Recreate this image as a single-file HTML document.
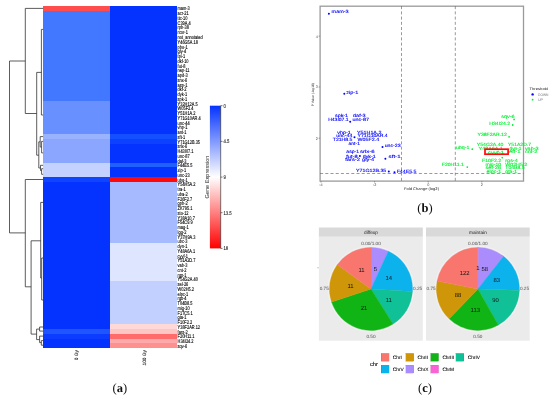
<!DOCTYPE html>
<html><head><meta charset="utf-8"><title>Figure</title>
<style>html,body{margin:0;padding:0;background:#fff}svg{display:block}</style></head>
<body><svg text-rendering="geometricPrecision" width="550" height="398" viewBox="0 0 550 398">
<rect width="550" height="398" fill="#fff"/>
<g shape-rendering="crispEdges">
<rect x="43.10" y="5.80" width="67.10" height="4.75" fill="#FF4D4D"/>
<rect x="43.10" y="10.55" width="67.10" height="90.31" fill="#4277FF"/>
<rect x="43.10" y="100.86" width="67.10" height="33.27" fill="#6890FF"/>
<rect x="43.10" y="134.13" width="67.10" height="4.75" fill="#9AB3FF"/>
<rect x="43.10" y="138.88" width="67.10" height="23.76" fill="#8AA6FF"/>
<rect x="43.10" y="162.65" width="67.10" height="14.26" fill="#C4D2FF"/>
<rect x="43.10" y="176.91" width="67.10" height="4.75" fill="#0F45FF"/>
<rect x="43.10" y="181.66" width="67.10" height="147.34" fill="#0433FF"/>
<rect x="43.10" y="329.00" width="67.10" height="4.75" fill="#1F55FF"/>
<rect x="43.10" y="333.76" width="67.10" height="4.75" fill="#0C3CFF"/>
<rect x="43.10" y="338.51" width="67.10" height="9.51" fill="#0433FF"/>
<rect x="110.20" y="5.80" width="67.10" height="128.33" fill="#0433FF"/>
<rect x="110.20" y="134.13" width="67.10" height="4.75" fill="#1450FF"/>
<rect x="110.20" y="138.88" width="67.10" height="4.75" fill="#0C42FF"/>
<rect x="110.20" y="143.64" width="67.10" height="19.01" fill="#0433FF"/>
<rect x="110.20" y="162.65" width="67.10" height="4.75" fill="#2060FF"/>
<rect x="110.20" y="167.40" width="67.10" height="9.51" fill="#0433FF"/>
<rect x="110.20" y="176.91" width="67.10" height="4.75" fill="#FF0A0A"/>
<rect x="110.20" y="181.66" width="67.10" height="61.79" fill="#A6BBFF"/>
<rect x="110.20" y="243.45" width="67.10" height="38.02" fill="#DEE6FF"/>
<rect x="110.20" y="281.47" width="67.10" height="42.78" fill="#C2D0FF"/>
<rect x="110.20" y="324.25" width="67.10" height="4.75" fill="#FFD8D8"/>
<rect x="110.20" y="329.00" width="67.10" height="4.75" fill="#FFC4C4"/>
<rect x="110.20" y="333.76" width="67.10" height="4.75" fill="#FF6B6B"/>
<rect x="110.20" y="338.51" width="67.10" height="4.75" fill="#FFAAAA"/>
<rect x="110.20" y="343.26" width="67.10" height="4.75" fill="#FF9090"/>
</g>
<g font-family="'Liberation Sans',Arial,sans-serif" font-size="5.3" fill="#000" stroke="#000" stroke-width="0.12">
<text transform="translate(177.60,10.48) scale(0.74,1)">mam-3</text>
<text transform="translate(177.60,15.23) scale(0.74,1)">acr-21</text>
<text transform="translate(177.60,19.98) scale(0.74,1)">ttc-10</text>
<text transform="translate(177.60,24.74) scale(0.74,1)">C39A.4</text>
<text transform="translate(177.60,29.49) scale(0.74,1)">rpb-38</text>
<text transform="translate(177.60,34.24) scale(0.74,1)">rcor-1</text>
<text transform="translate(177.60,38.99) scale(0.74,1)">not_annotated</text>
<text transform="translate(177.60,43.75) scale(0.74,1)">Y46G5A.18</text>
<text transform="translate(177.60,48.50) scale(0.74,1)">pbo-1</text>
<text transform="translate(177.60,53.25) scale(0.74,1)">gly-4</text>
<text transform="translate(177.60,58.01) scale(0.74,1)">tpi-1</text>
<text transform="translate(177.60,62.76) scale(0.74,1)">dkf-10</text>
<text transform="translate(177.60,67.51) scale(0.74,1)">fut-8</text>
<text transform="translate(177.60,72.27) scale(0.74,1)">nep-11</text>
<text transform="translate(177.60,77.02) scale(0.74,1)">apd-3</text>
<text transform="translate(177.60,81.77) scale(0.74,1)">snx-6</text>
<text transform="translate(177.60,86.52) scale(0.74,1)">asp-1</text>
<text transform="translate(177.60,91.28) scale(0.74,1)">dkf-2</text>
<text transform="translate(177.60,96.03) scale(0.74,1)">dyk-1</text>
<text transform="translate(177.60,100.78) scale(0.74,1)">spk-1</text>
<text transform="translate(177.60,105.54) scale(0.74,1)">Y32H12A.5</text>
<text transform="translate(177.60,110.29) scale(0.74,1)">W05F2.4</text>
<text transform="translate(177.60,115.04) scale(0.74,1)">Y51H1A.2</text>
<text transform="translate(177.60,119.80) scale(0.74,1)">Y71G10AR.4</text>
<text transform="translate(177.60,124.55) scale(0.74,1)">unc-44</text>
<text transform="translate(177.60,129.30) scale(0.74,1)">vhp-1</text>
<text transform="translate(177.60,134.05) scale(0.74,1)">ant-1</text>
<text transform="translate(177.60,138.81) scale(0.74,1)">sft-1</text>
<text transform="translate(177.60,143.56) scale(0.74,1)">Y71G12B.35</text>
<text transform="translate(177.60,148.31) scale(0.74,1)">srlx-6</text>
<text transform="translate(177.60,153.07) scale(0.74,1)">H43I07.1</text>
<text transform="translate(177.60,157.82) scale(0.74,1)">unc-87</text>
<text transform="translate(177.60,162.57) scale(0.74,1)">daf-3</text>
<text transform="translate(177.60,167.33) scale(0.74,1)">F44E5.5</text>
<text transform="translate(177.60,172.08) scale(0.74,1)">zip-1</text>
<text transform="translate(177.60,176.83) scale(0.74,1)">unc-23</text>
<text transform="translate(177.60,181.58) scale(0.74,1)">ubq-1</text>
<text transform="translate(177.60,186.34) scale(0.74,1)">Y54H5A.2</text>
<text transform="translate(177.60,191.09) scale(0.74,1)">tra-1</text>
<text transform="translate(177.60,195.84) scale(0.74,1)">uba-2</text>
<text transform="translate(177.60,200.60) scale(0.74,1)">F26F2.7</text>
<text transform="translate(177.60,205.35) scale(0.74,1)">gpb-2</text>
<text transform="translate(177.60,210.10) scale(0.74,1)">ZK795.1</text>
<text transform="translate(177.60,214.86) scale(0.74,1)">sto-12</text>
<text transform="translate(177.60,219.61) scale(0.74,1)">Y38A10.7</text>
<text transform="translate(177.60,224.36) scale(0.74,1)">F54C9.9</text>
<text transform="translate(177.60,229.11) scale(0.74,1)">mag-1</text>
<text transform="translate(177.60,233.87) scale(0.74,1)">lgg-2</text>
<text transform="translate(177.60,238.62) scale(0.74,1)">Y37H9A.3</text>
<text transform="translate(177.60,243.37) scale(0.74,1)">ubc-3</text>
<text transform="translate(177.60,248.13) scale(0.74,1)">dyn-1</text>
<text transform="translate(177.60,252.88) scale(0.74,1)">Y48A6A.1</text>
<text transform="translate(177.60,257.63) scale(0.74,1)">cyyf-1</text>
<text transform="translate(177.60,262.39) scale(0.74,1)">Y51A2D.7</text>
<text transform="translate(177.60,267.14) scale(0.74,1)">vab-3</text>
<text transform="translate(177.60,271.89) scale(0.74,1)">cnt-2</text>
<text transform="translate(177.60,276.64) scale(0.74,1)">rgs-1</text>
<text transform="translate(177.60,281.40) scale(0.74,1)">Y54G2A.40</text>
<text transform="translate(177.60,286.15) scale(0.74,1)">sel-26</text>
<text transform="translate(177.60,290.90) scale(0.74,1)">W02H5.2</text>
<text transform="translate(177.60,295.66) scale(0.74,1)">elpc-1</text>
<text transform="translate(177.60,300.41) scale(0.74,1)">rgs-4</text>
<text transform="translate(177.60,305.16) scale(0.74,1)">T04B8.5</text>
<text transform="translate(177.60,309.92) scale(0.74,1)">mig-10</text>
<text transform="translate(177.60,314.67) scale(0.74,1)">F17C5.1</text>
<text transform="translate(177.60,319.42) scale(0.74,1)">gta-1</text>
<text transform="translate(177.60,324.17) scale(0.74,1)">F10F2.2</text>
<text transform="translate(177.60,328.93) scale(0.74,1)">Y38F2AR.12</text>
<text transform="translate(177.60,333.68) scale(0.74,1)">fars-2</text>
<text transform="translate(177.60,338.43) scale(0.74,1)">F20H11.1</text>
<text transform="translate(177.60,343.19) scale(0.74,1)">H34I24.2</text>
<text transform="translate(177.60,347.94) scale(0.74,1)">sqv-6</text>
</g>
<path d="M25.3 8.4L43.1 8.4" stroke="#333" stroke-width="0.8" fill="none"/>
<path d="M25.3 8.4L25.3 113.5" stroke="#333" stroke-width="0.8" fill="none"/>
<path d="M9.5 61.0L25.3 61.0" stroke="#333" stroke-width="0.8" fill="none"/>
<path d="M9.5 61.0L9.5 232.9" stroke="#333" stroke-width="0.8" fill="none"/>
<path d="M9.5 232.9L25.3 232.9" stroke="#333" stroke-width="0.8" fill="none"/>
<path d="M41.4 29.4L43.1 29.4" stroke="#333" stroke-width="0.8" fill="none"/>
<path d="M41.4 29.4L41.4 115.0" stroke="#333" stroke-width="0.8" fill="none"/>
<path d="M41.4 115.0L43.1 115.0" stroke="#333" stroke-width="0.8" fill="none"/>
<path d="M36.7 72.4L41.4 72.4" stroke="#333" stroke-width="0.8" fill="none"/>
<path d="M36.7 72.4L36.7 155.2" stroke="#333" stroke-width="0.8" fill="none"/>
<path d="M25.3 113.5L36.7 113.5" stroke="#333" stroke-width="0.8" fill="none"/>
<path d="M36.7 155.2L38.8 155.2" stroke="#333" stroke-width="0.8" fill="none"/>
<path d="M38.8 141.8L38.8 168.0" stroke="#333" stroke-width="0.8" fill="none"/>
<path d="M38.8 141.8L40.2 141.8" stroke="#333" stroke-width="0.8" fill="none"/>
<path d="M40.2 136.6L40.2 147.0" stroke="#333" stroke-width="0.8" fill="none"/>
<path d="M40.2 136.6L43.1 136.6" stroke="#333" stroke-width="0.8" fill="none"/>
<path d="M40.2 147.0L41.6 147.0" stroke="#333" stroke-width="0.8" fill="none"/>
<path d="M41.6 141.4L41.6 152.9" stroke="#333" stroke-width="0.8" fill="none"/>
<path d="M41.6 141.4L43.1 141.4" stroke="#333" stroke-width="0.8" fill="none"/>
<path d="M41.6 152.9L43.1 152.9" stroke="#333" stroke-width="0.8" fill="none"/>
<path d="M38.8 168.0L40.5 168.0" stroke="#333" stroke-width="0.8" fill="none"/>
<path d="M40.5 165.3L40.5 170.5" stroke="#333" stroke-width="0.8" fill="none"/>
<path d="M40.5 165.3L43.1 165.3" stroke="#333" stroke-width="0.8" fill="none"/>
<path d="M40.5 170.5L41.6 170.5" stroke="#333" stroke-width="0.8" fill="none"/>
<path d="M41.6 168.7L41.6 174.3" stroke="#333" stroke-width="0.8" fill="none"/>
<path d="M41.6 168.7L43.1 168.7" stroke="#333" stroke-width="0.8" fill="none"/>
<path d="M41.6 174.3L43.1 174.3" stroke="#333" stroke-width="0.8" fill="none"/>
<path d="M25.3 179.5L43.1 179.5" stroke="#333" stroke-width="0.8" fill="none"/>
<path d="M25.3 179.5L25.3 286.8" stroke="#333" stroke-width="0.8" fill="none"/>
<path d="M25.3 286.8L31.1 286.8" stroke="#333" stroke-width="0.8" fill="none"/>
<path d="M31.1 240.8L31.1 334.1" stroke="#333" stroke-width="0.8" fill="none"/>
<path d="M31.1 240.8L40.7 240.8" stroke="#333" stroke-width="0.8" fill="none"/>
<path d="M40.7 202.4L40.7 278.0" stroke="#333" stroke-width="0.8" fill="none"/>
<path d="M40.7 202.4L43.1 202.4" stroke="#333" stroke-width="0.8" fill="none"/>
<path d="M40.7 278.0L41.7 278.0" stroke="#333" stroke-width="0.8" fill="none"/>
<path d="M41.7 258.0L41.7 300.0" stroke="#333" stroke-width="0.8" fill="none"/>
<path d="M41.7 258.0L43.1 258.0" stroke="#333" stroke-width="0.8" fill="none"/>
<path d="M41.7 300.0L43.1 300.0" stroke="#333" stroke-width="0.8" fill="none"/>
<path d="M31.1 334.1L36.6 334.1" stroke="#333" stroke-width="0.8" fill="none"/>
<path d="M36.6 329.1L36.6 339.6" stroke="#333" stroke-width="0.8" fill="none"/>
<path d="M36.6 329.1L39.6 329.1" stroke="#333" stroke-width="0.8" fill="none"/>
<path d="M39.6 327.0L39.6 331.1" stroke="#333" stroke-width="0.8" fill="none"/>
<path d="M39.6 327.0L43.1 327.0" stroke="#333" stroke-width="0.8" fill="none"/>
<path d="M39.6 331.1L43.1 331.1" stroke="#333" stroke-width="0.8" fill="none"/>
<path d="M36.6 339.6L39.6 339.6" stroke="#333" stroke-width="0.8" fill="none"/>
<path d="M39.6 336.1L39.6 342.6" stroke="#333" stroke-width="0.8" fill="none"/>
<path d="M39.6 336.1L43.1 336.1" stroke="#333" stroke-width="0.8" fill="none"/>
<path d="M39.6 342.6L41.3 342.6" stroke="#333" stroke-width="0.8" fill="none"/>
<path d="M41.3 340.6L41.3 345.2" stroke="#333" stroke-width="0.8" fill="none"/>
<path d="M41.3 340.6L43.1 340.6" stroke="#333" stroke-width="0.8" fill="none"/>
<path d="M41.3 345.2L43.1 345.2" stroke="#333" stroke-width="0.8" fill="none"/>
<g font-family="'Liberation Sans',Arial,sans-serif" font-size="4.8" fill="#111" stroke="#111" stroke-width="0.1">
<text transform="translate(78.3,350) rotate(-90)" text-anchor="end">0 Gy</text>
<text transform="translate(145.7,350) rotate(-90)" text-anchor="end">100 Gy</text>
</g>
<defs><linearGradient id="cb" x1="0" y1="0" x2="0" y2="1">
<stop offset="0" stop-color="#0433FF"/><stop offset="0.5" stop-color="#FFFFFF"/><stop offset="1" stop-color="#FF0000"/></linearGradient></defs>
<rect x="209.9" y="105.7" width="10.80" height="142.70" fill="url(#cb)"/>
<path d="M220.7 105.7L220.7 248.4" stroke="#222" stroke-width="0.6" fill="none"/>
<g font-family="'Liberation Sans',Arial,sans-serif" font-size="4.8" fill="#222">
<path d="M220.7 105.7L222.5 105.7" stroke="#222" stroke-width="0.6" fill="none"/>
<text transform="translate(223.4,107.6) scale(0.78,1)" font-size="5.5" stroke="#222" stroke-width="0.1">0</text>
<path d="M220.7 141.4L222.5 141.4" stroke="#222" stroke-width="0.6" fill="none"/>
<text transform="translate(223.4,143.3) scale(0.78,1)" font-size="5.5" stroke="#222" stroke-width="0.1">4.5</text>
<path d="M220.7 177.1L222.5 177.1" stroke="#222" stroke-width="0.6" fill="none"/>
<text transform="translate(223.4,179.0) scale(0.78,1)" font-size="5.5" stroke="#222" stroke-width="0.1">9</text>
<path d="M220.7 212.7L222.5 212.7" stroke="#222" stroke-width="0.6" fill="none"/>
<text transform="translate(223.4,214.6) scale(0.78,1)" font-size="5.5" stroke="#222" stroke-width="0.1">13.5</text>
<path d="M220.7 248.4L222.5 248.4" stroke="#222" stroke-width="0.6" fill="none"/>
<text transform="translate(223.4,250.3) scale(0.78,1)" font-size="5.5" stroke="#222" stroke-width="0.1">18</text>
<text transform="translate(208.9,177) rotate(-90)" text-anchor="middle" font-size="5.6">Gene Expression</text>
</g>
<g font-family="'Liberation Serif','Times New Roman',serif" font-size="12.5" fill="#111" text-anchor="middle">
<text x="119.9" y="392.3"><tspan>(</tspan><tspan font-weight="bold">a</tspan><tspan>)</tspan></text>
<text x="424.9" y="212.45"><tspan>(</tspan><tspan font-weight="bold">b</tspan><tspan>)</tspan></text>
<text x="425.0" y="392.25"><tspan>(</tspan><tspan font-weight="bold">c</tspan><tspan>)</tspan></text>
</g>
<rect x="320.1" y="6.2" width="203.4" height="174.9" fill="none" stroke="#9a9a9a" stroke-width="1.3"/>
<path d="M401.5 6.2V181.1" stroke="#555" stroke-width="0.6" stroke-dasharray="3 2.2" fill="none"/>
<path d="M455.3 6.2V181.1" stroke="#555" stroke-width="0.6" stroke-dasharray="3 2.2" fill="none"/>
<path d="M320.1 173.5H523.5" stroke="#555" stroke-width="0.6" stroke-dasharray="3 2.2" fill="none"/>
<g font-family="'Liberation Sans',Arial,sans-serif" font-size="3.8" fill="#555">
<path d="M318.6 36.2L320.1 36.2" stroke="#555" stroke-width="0.5" fill="none"/>
<text x="317.8" y="37.5" text-anchor="end">4</text>
<path d="M318.6 87.0L320.1 87.0" stroke="#555" stroke-width="0.5" fill="none"/>
<text x="317.8" y="88.3" text-anchor="end">3</text>
<path d="M318.6 138.2L320.1 138.2" stroke="#555" stroke-width="0.5" fill="none"/>
<text x="317.8" y="139.5" text-anchor="end">2</text>
<path d="M321.0 181.1L321.0 182.6" stroke="#555" stroke-width="0.5" fill="none"/>
<text x="321.0" y="185.9" text-anchor="middle">-4</text>
<path d="M374.6 181.1L374.6 182.6" stroke="#555" stroke-width="0.5" fill="none"/>
<text x="374.6" y="185.9" text-anchor="middle">-2</text>
<path d="M428.2 181.1L428.2 182.6" stroke="#555" stroke-width="0.5" fill="none"/>
<text x="428.2" y="185.9" text-anchor="middle">0</text>
<path d="M481.8 181.1L481.8 182.6" stroke="#555" stroke-width="0.5" fill="none"/>
<text x="481.8" y="185.9" text-anchor="middle">2</text>
<text x="421.5" y="189.8" text-anchor="middle" fill="#222" textLength="35" lengthAdjust="spacingAndGlyphs">Fold Change (log2)</text>
<text transform="translate(314.3,94.7) rotate(-90)" text-anchor="middle" fill="#222" font-size="3.4" textLength="23" lengthAdjust="spacingAndGlyphs">P Value (-log10)</text>
</g>
<g font-family="'Liberation Sans',Arial,sans-serif" font-size="4.5" stroke-width="0.12">
<text x="331.6" y="12.5" fill="#0000FF" stroke="#0000FF" textLength="17.0" lengthAdjust="spacingAndGlyphs">mam-3</text>
<text x="346.3" y="93.8" fill="#0000FF" stroke="#0000FF" textLength="12.0" lengthAdjust="spacingAndGlyphs">zip-1</text>
<text x="335.0" y="117.1" fill="#0000FF" stroke="#0000FF" textLength="13.1" lengthAdjust="spacingAndGlyphs">spk-1</text>
<text x="353.1" y="117.1" fill="#0000FF" stroke="#0000FF" textLength="12.4" lengthAdjust="spacingAndGlyphs">daf-3</text>
<text x="328.2" y="121.4" fill="#0000FF" stroke="#0000FF" textLength="20.4" lengthAdjust="spacingAndGlyphs">H43I07.1</text>
<text x="352.4" y="121.4" fill="#0000FF" stroke="#0000FF" textLength="16.5" lengthAdjust="spacingAndGlyphs">unc-87</text>
<text x="337.3" y="134.0" fill="#0000FF" stroke="#0000FF" textLength="13.5" lengthAdjust="spacingAndGlyphs">vhp-1</text>
<text x="357.0" y="134.0" fill="#0000FF" stroke="#0000FF" textLength="24.4" lengthAdjust="spacingAndGlyphs">Y51H1A.2</text>
<text x="336.2" y="137.4" fill="#0000FF" stroke="#0000FF" textLength="16.2" lengthAdjust="spacingAndGlyphs">unc-44</text>
<text x="357.6" y="137.4" fill="#0000FF" stroke="#0000FF" textLength="30.1" lengthAdjust="spacingAndGlyphs">Y71G10AR.4</text>
<text x="332.8" y="141.3" fill="#0000FF" stroke="#0000FF" textLength="19.6" lengthAdjust="spacingAndGlyphs">T21H8.5</text>
<text x="357.6" y="141.3" fill="#0000FF" stroke="#0000FF" textLength="21.5" lengthAdjust="spacingAndGlyphs">W05F2.4</text>
<text x="348.6" y="144.9" fill="#0000FF" stroke="#0000FF" textLength="11.3" lengthAdjust="spacingAndGlyphs">ant-1</text>
<text x="384.7" y="146.9" fill="#0000FF" stroke="#0000FF" textLength="15.9" lengthAdjust="spacingAndGlyphs">unc-23</text>
<text x="346.3" y="153.3" fill="#0000FF" stroke="#0000FF" textLength="12.9" lengthAdjust="spacingAndGlyphs">asp-1</text>
<text x="359.9" y="153.3" fill="#0000FF" stroke="#0000FF" textLength="14.7" lengthAdjust="spacingAndGlyphs">srlx-6</text>
<text x="346.3" y="157.8" fill="#0000FF" stroke="#0000FF" textLength="11.3" lengthAdjust="spacingAndGlyphs">fut-8</text>
<text x="362.8" y="157.8" fill="#0000FF" stroke="#0000FF" textLength="12.9" lengthAdjust="spacingAndGlyphs">dyk-1</text>
<text x="388.6" y="158.2" fill="#0000FF" stroke="#0000FF" textLength="12.0" lengthAdjust="spacingAndGlyphs">sft-1</text>
<text x="345.2" y="161.3" fill="#0000FF" stroke="#0000FF" textLength="14.7" lengthAdjust="spacingAndGlyphs">fars-2</text>
<text x="362.1" y="161.3" fill="#0000FF" stroke="#0000FF" textLength="12.0" lengthAdjust="spacingAndGlyphs">gly-4</text>
<text x="356.0" y="171.7" fill="#0000FF" stroke="#0000FF" textLength="30.3" lengthAdjust="spacingAndGlyphs">Y71G12B.35</text>
<text x="396.7" y="172.6" fill="#0000FF" stroke="#0000FF" textLength="19.7" lengthAdjust="spacingAndGlyphs">F44E5.5</text>
<circle cx="328.9" cy="13.8" r="1.0" fill="#0000FF"/>
<circle cx="344.3" cy="93.7" r="1.0" fill="#0000FF"/>
<circle cx="350.2" cy="121.8" r="1.0" fill="#0000FF"/>
<circle cx="354.5" cy="137.3" r="1.0" fill="#0000FF"/>
<circle cx="382.5" cy="147.1" r="1.0" fill="#0000FF"/>
<circle cx="359.9" cy="155.9" r="1.0" fill="#0000FF"/>
<circle cx="385.4" cy="158.8" r="1.0" fill="#0000FF"/>
<circle cx="388.8" cy="171.6" r="1.0" fill="#0000FF"/>
<circle cx="394.5" cy="172.3" r="1.0" fill="#0000FF"/>
<text x="501.2" y="118.3" fill="#00F030" stroke="#00F030" textLength="13.5" lengthAdjust="spacingAndGlyphs">sqv-6</text>
<text x="489.2" y="125.3" fill="#00F030" stroke="#00F030" textLength="21.0" lengthAdjust="spacingAndGlyphs">H34I24.2</text>
<text x="477.5" y="136.4" fill="#00F030" stroke="#00F030" textLength="29.3" lengthAdjust="spacingAndGlyphs">Y38F2AR.12</text>
<text x="476.8" y="146.1" fill="#00F030" stroke="#00F030" textLength="26.6" lengthAdjust="spacingAndGlyphs">Y54G2A.40</text>
<text x="508.0" y="146.1" fill="#00F030" stroke="#00F030" textLength="23.0" lengthAdjust="spacingAndGlyphs">Y51A2D.7</text>
<text x="456.0" y="148.9" fill="#00F030" stroke="#00F030" textLength="13.5" lengthAdjust="spacingAndGlyphs">ubq-1</text>
<text x="478.6" y="149.8" fill="#00F030" stroke="#00F030" textLength="24.4" lengthAdjust="spacingAndGlyphs">Y48A6A.1</text>
<text x="509.5" y="149.8" fill="#00F030" stroke="#00F030" textLength="12.0" lengthAdjust="spacingAndGlyphs">dyn-1</text>
<text x="524.9" y="149.8" fill="#00F030" stroke="#00F030" textLength="13.6" lengthAdjust="spacingAndGlyphs">vab-3</text>
<text x="488.0" y="153.5" fill="#00F030" stroke="#00F030" textLength="16.0" lengthAdjust="spacingAndGlyphs">cyyf-1</text>
<text x="509.1" y="153.4" fill="#00F030" stroke="#00F030" textLength="11.3" lengthAdjust="spacingAndGlyphs">eif-1</text>
<text x="524.9" y="153.4" fill="#00F030" stroke="#00F030" textLength="12.4" lengthAdjust="spacingAndGlyphs">cnt-2</text>
<text x="482.0" y="162.2" fill="#00F030" stroke="#00F030" textLength="19.2" lengthAdjust="spacingAndGlyphs">F10F2.2</text>
<text x="505.3" y="162.2" fill="#00F030" stroke="#00F030" textLength="12.4" lengthAdjust="spacingAndGlyphs">rgs-4</text>
<text x="441.8" y="165.8" fill="#00F030" stroke="#00F030" textLength="22.1" lengthAdjust="spacingAndGlyphs">F20H11.1</text>
<text x="485.4" y="165.8" fill="#00F030" stroke="#00F030" textLength="15.8" lengthAdjust="spacingAndGlyphs">mig-10</text>
<text x="505.3" y="165.8" fill="#00F030" stroke="#00F030" textLength="21.9" lengthAdjust="spacingAndGlyphs">W02H5.2</text>
<text x="485.4" y="169.4" fill="#00F030" stroke="#00F030" textLength="15.8" lengthAdjust="spacingAndGlyphs">sel-26</text>
<text x="505.3" y="169.4" fill="#00F030" stroke="#00F030" textLength="19.2" lengthAdjust="spacingAndGlyphs">T04B8.5</text>
<text x="486.5" y="172.6" fill="#00F030" stroke="#00F030" textLength="14.7" lengthAdjust="spacingAndGlyphs">elpc-1</text>
<text x="505.3" y="172.6" fill="#00F030" stroke="#00F030" textLength="11.7" lengthAdjust="spacingAndGlyphs">gta-1</text>
<circle cx="514.1" cy="119.4" r="0.9" fill="#00F030"/>
<circle cx="512.7" cy="125.0" r="0.9" fill="#00F030"/>
<circle cx="509.1" cy="136.8" r="0.9" fill="#00F030"/>
<circle cx="472.3" cy="149.2" r="0.9" fill="#00F030"/>
<circle cx="502.3" cy="157.6" r="0.9" fill="#00F030"/>
<circle cx="467.3" cy="167.1" r="0.9" fill="#00F030"/>
</g>
<rect x="485" y="149.2" width="23.1" height="5" fill="none" stroke="#FF0A0A" stroke-width="1.7"/>
<g font-family="'Liberation Sans',Arial,sans-serif" font-size="3.6" fill="#333">
<text x="529.5" y="90.2" fill="#111" textLength="18.4" lengthAdjust="spacingAndGlyphs">Threshold</text>
<circle cx="532.6" cy="94.4" r="1.2" fill="#0000FF"/>
<text x="538" y="95.6" fill="#777" textLength="10.5" lengthAdjust="spacingAndGlyphs">DOWN</text>
<circle cx="532.6" cy="99.7" r="0.9" fill="#00F030"/>
<text x="538" y="100.9" fill="#777" textLength="5" lengthAdjust="spacingAndGlyphs">UP</text>
</g>
<rect x="318.9" y="227.5" width="103.9" height="9.3" fill="#D9D9D9"/>
<rect x="318.9" y="236.7" width="103.9" height="104.0" fill="#EBEBEB"/>
<circle cx="371.0" cy="288.9" r="42.7" fill="none" stroke="#f7f7f7" stroke-width="0.6"/>
<circle cx="371.0" cy="288.9" r="22" fill="none" stroke="#f4f4f4" stroke-width="0.4"/>
<g font-family="'Liberation Sans',Arial,sans-serif" font-size="5.9" fill="#111">
<path d="M371.00 288.90L371.00 247.40A41.5 41.5 0 0 1 388.31 251.18Z" fill="#AA8CFC" stroke="#AA8CFC" stroke-width="0.35" stroke-linejoin="round"/>
<path d="M371.00 288.90L388.31 251.18A41.5 41.5 0 0 1 412.41 291.58Z" fill="#0CB2EC" stroke="#0CB2EC" stroke-width="0.35" stroke-linejoin="round"/>
<path d="M371.00 288.90L412.41 291.58A41.5 41.5 0 0 1 393.03 324.07Z" fill="#10C096" stroke="#10C096" stroke-width="0.35" stroke-linejoin="round"/>
<path d="M371.00 288.90L393.03 324.07A41.5 41.5 0 0 1 331.64 302.06Z" fill="#10B515" stroke="#10B515" stroke-width="0.35" stroke-linejoin="round"/>
<path d="M371.00 288.90L331.64 302.06A41.5 41.5 0 0 1 337.32 264.65Z" fill="#CE9608" stroke="#CE9608" stroke-width="0.35" stroke-linejoin="round"/>
<path d="M371.00 288.90L337.32 264.65A41.5 41.5 0 0 1 371.00 247.40Z" fill="#F8766D" stroke="#F8766D" stroke-width="0.35" stroke-linejoin="round"/>
<text x="375.4" y="270.6" text-anchor="middle">5</text>
<text x="388.8" y="280.3" text-anchor="middle">14</text>
<text x="388.8" y="301.5" text-anchor="middle">11</text>
<text x="364.0" y="310.4" text-anchor="middle">21</text>
<text x="350.5" y="287.8" text-anchor="middle">11</text>
<text x="361.5" y="272.4" text-anchor="middle">11</text>
</g>
<g font-family="'Liberation Sans',Arial,sans-serif" font-size="4.7" fill="#4D4D4D" text-anchor="middle">
<text x="370.9" y="233.7" fill="#1A1A1A">diffexp</text>
<text x="371.0" y="244.6">0.00/1.00</text>
<text x="417.6" y="290.4">0.25</text>
<text x="371.0" y="337.6">0.50</text>
<text x="324.2" y="290.4">0.75</text>
</g>
<rect x="426.0" y="227.5" width="103.7" height="9.3" fill="#D9D9D9"/>
<rect x="426.0" y="236.7" width="103.7" height="104.0" fill="#EBEBEB"/>
<circle cx="477.9" cy="288.9" r="42.7" fill="none" stroke="#f7f7f7" stroke-width="0.6"/>
<circle cx="477.9" cy="288.9" r="22" fill="none" stroke="#f4f4f4" stroke-width="0.4"/>
<g font-family="'Liberation Sans',Arial,sans-serif" font-size="5.9" fill="#111">
<path d="M477.90 288.90L477.90 247.40A41.5 41.5 0 0 1 478.37 247.40Z" fill="#FA62D8" stroke="#FA62D8" stroke-width="0.35" stroke-linejoin="round"/>
<path d="M477.90 288.90L478.37 247.40A41.5 41.5 0 0 1 503.60 256.32Z" fill="#AA8CFC" stroke="#AA8CFC" stroke-width="0.35" stroke-linejoin="round"/>
<path d="M477.90 288.90L503.60 256.32A41.5 41.5 0 0 1 519.37 290.43Z" fill="#0CB2EC" stroke="#0CB2EC" stroke-width="0.35" stroke-linejoin="round"/>
<path d="M477.90 288.90L519.37 290.43A41.5 41.5 0 0 1 498.34 325.01Z" fill="#10C096" stroke="#10C096" stroke-width="0.35" stroke-linejoin="round"/>
<path d="M477.90 288.90L498.34 325.01A41.5 41.5 0 0 1 449.18 318.86Z" fill="#10B515" stroke="#10B515" stroke-width="0.35" stroke-linejoin="round"/>
<path d="M477.90 288.90L449.18 318.86A41.5 41.5 0 0 1 437.14 281.08Z" fill="#CE9608" stroke="#CE9608" stroke-width="0.35" stroke-linejoin="round"/>
<path d="M477.90 288.90L437.14 281.08A41.5 41.5 0 0 1 477.90 247.40Z" fill="#F8766D" stroke="#F8766D" stroke-width="0.35" stroke-linejoin="round"/>
<text x="478.0" y="270.2" text-anchor="middle">1</text>
<text x="484.8" y="271.3" text-anchor="middle">58</text>
<text x="496.7" y="282.2" text-anchor="middle">83</text>
<text x="495.6" y="301.7" text-anchor="middle">90</text>
<text x="475.3" y="311.5" text-anchor="middle">113</text>
<text x="458.1" y="297.2" text-anchor="middle">88</text>
<text x="464.7" y="274.9" text-anchor="middle">122</text>
</g>
<g font-family="'Liberation Sans',Arial,sans-serif" font-size="4.7" fill="#4D4D4D" text-anchor="middle">
<text x="477.9" y="233.7" fill="#1A1A1A">maintain</text>
<text x="477.9" y="244.6">0.00/1.00</text>
<text x="524.5" y="290.4">0.25</text>
<text x="477.9" y="337.6">0.50</text>
<text x="431.09999999999997" y="290.4">0.75</text>
</g>
<path d="M317.2 267.8L318.9 267.8" stroke="#888" stroke-width="0.5" fill="none"/>
<g font-family="'Liberation Sans',Arial,sans-serif" font-size="4.8" fill="#000" stroke="#000" stroke-width="0.08">
<text x="370" y="365.6" font-size="5.7">chr</text>
<rect x="381.05" y="353.3" width="8" height="8" fill="#F8766D"/>
<text x="392.8" y="359.0">ChrI</text>
<rect x="405.85" y="353.3" width="8" height="8" fill="#CE9608"/>
<text x="417.6" y="359.0">ChrII</text>
<rect x="430.65" y="353.3" width="8" height="8" fill="#10B515"/>
<text x="442.4" y="359.0">ChrIII</text>
<rect x="455.95" y="353.3" width="8" height="8" fill="#10C096"/>
<text x="467.7" y="359.0">ChrIV</text>
<rect x="381.05" y="365.1" width="8" height="8" fill="#0CB2EC"/>
<text x="392.8" y="370.8">ChrV</text>
<rect x="405.85" y="365.1" width="8" height="8" fill="#AA8CFC"/>
<text x="417.6" y="370.8">ChrX</text>
<rect x="430.65" y="365.1" width="8" height="8" fill="#FA62D8"/>
<text x="442.4" y="370.8">ChrM</text>
</g>
</svg></body></html>
